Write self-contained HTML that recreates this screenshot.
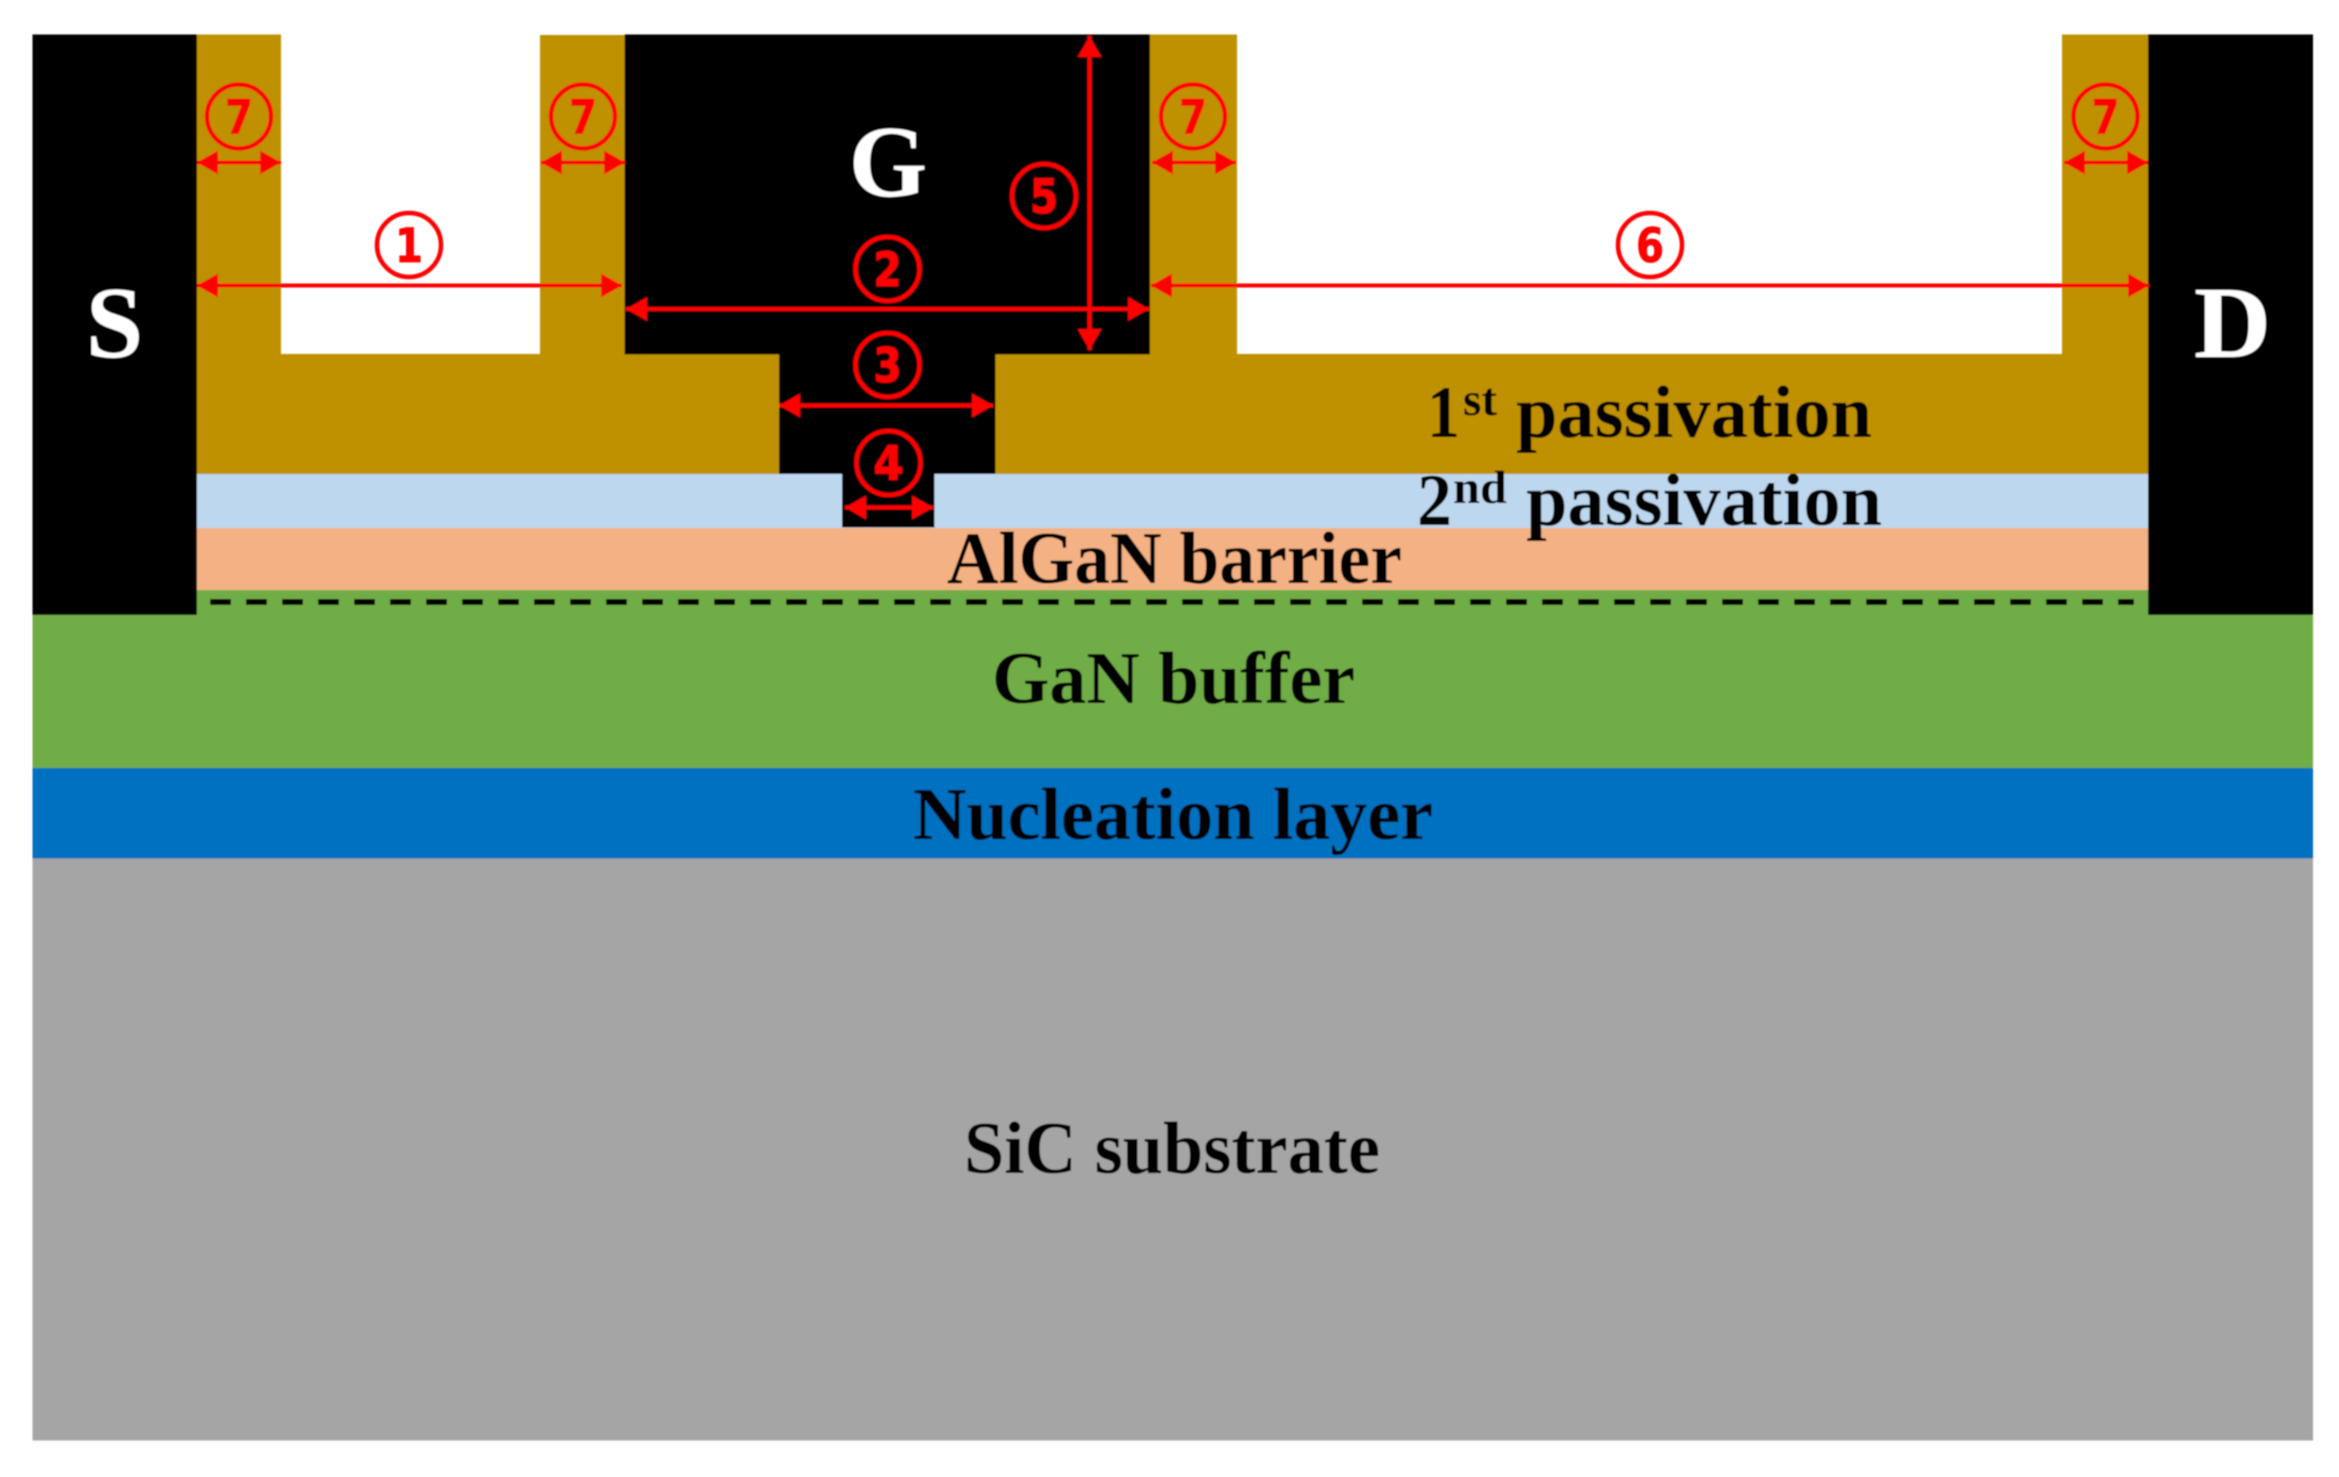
<!DOCTYPE html>
<html lang="en">
<head>
<meta charset="utf-8">
<title>GaN HEMT cross-section</title>
<style>
html,body{margin:0;padding:0;background:#fff;width:2339px;height:1477px;overflow:hidden}
svg{display:block;position:absolute;left:0;top:0}
.t{font-family:"Liberation Serif",serif;font-weight:700;font-size:74px;fill:#000}
.w{font-family:"Liberation Serif",serif;font-weight:700;font-size:102px;fill:#fff}
.s{font-size:47px}
.n{font-family:"DejaVu Sans",sans-serif;font-weight:700;font-size:47px;fill:#f00;text-anchor:middle;stroke:#f00;stroke-width:.8}
.c{fill:none;stroke:#f00;stroke-width:4.5}
.a{stroke:#f00;stroke-width:4;fill:none;marker-start:url(#h);marker-end:url(#h)}
</style>
</head>
<body>
<svg width="2339" height="1477" viewBox="0 0 2339 1477" xmlns="http://www.w3.org/2000/svg">
<defs>
<marker id="h" markerUnits="userSpaceOnUse" markerWidth="22" markerHeight="26" refX="21" refY="13" orient="auto-start-reverse">
<path d="M0 1 L21 13 L0 25 Z" fill="#f00"/>
</marker>
<filter id="b" x="-2%" y="-2%" width="104%" height="104%"><feGaussianBlur stdDeviation="0.8"/></filter>
</defs>
<g filter="url(#b)">
<!-- substrate stack -->
<rect x="32.5" y="858.5" width="2280.5" height="582" fill="#a5a5a5"/>
<rect x="32.5" y="768" width="2280.5" height="90.5" fill="#0070c0"/>
<rect x="32.5" y="590" width="2280.5" height="178" fill="#70ad47"/>
<rect x="197" y="528" width="1951" height="62" fill="#f4b183"/>
<rect x="197" y="474" width="1951" height="54" fill="#bdd7ee"/>
<!-- first passivation -->
<rect x="197" y="354" width="1951" height="120" fill="#bf9000"/>
<rect x="197" y="34.5" width="84" height="320" fill="#bf9000"/>
<rect x="540" y="35" width="85" height="320" fill="#bf9000"/>
<rect x="1150" y="34.5" width="87" height="320" fill="#bf9000"/>
<rect x="2062" y="34.5" width="86" height="320" fill="#bf9000"/>
<!-- contacts -->
<rect x="32.5" y="34.5" width="164.5" height="580.5" fill="#000"/>
<rect x="2148" y="34.5" width="165" height="580.5" fill="#000"/>
<polygon points="624.5,34.5 1150,34.5 1150,354.5 995.5,354.5 995.5,474 934.5,474 934.5,527.5 842,527.5 842,474 779,474 779,354.5 624.5,354.5" fill="#000"/>
<!-- channel -->
<line x1="210" y1="602" x2="2134" y2="602" stroke="#000" stroke-width="6" stroke-dasharray="21 15"/>
<!-- labels -->
<text class="w" x="86" y="357" textLength="57" lengthAdjust="spacingAndGlyphs">S</text>
<text class="w" x="849" y="196" textLength="78" lengthAdjust="spacingAndGlyphs">G</text>
<text class="w" x="2194" y="357" textLength="77" lengthAdjust="spacingAndGlyphs">D</text>
<text class="t" x="1427" y="437" textLength="33" lengthAdjust="spacingAndGlyphs">1</text>
<text class="t s" x="1463" y="415" textLength="34" lengthAdjust="spacingAndGlyphs">st</text>
<text class="t" x="1516" y="437" textLength="356" lengthAdjust="spacingAndGlyphs">passivation</text>
<text class="t" x="1417" y="525" textLength="35" lengthAdjust="spacingAndGlyphs">2</text>
<text class="t s" x="1453" y="503" textLength="54" lengthAdjust="spacingAndGlyphs">nd</text>
<text class="t" x="1526" y="525" textLength="356" lengthAdjust="spacingAndGlyphs">passivation</text>
<text class="t" x="947" y="583" textLength="455" lengthAdjust="spacingAndGlyphs">AlGaN barrier</text>
<text class="t" x="992" y="703" textLength="363" lengthAdjust="spacingAndGlyphs">GaN buffer</text>
<text class="t" x="913" y="839" textLength="520" lengthAdjust="spacingAndGlyphs">Nucleation layer</text>
<text class="t" x="964" y="1173" textLength="416" lengthAdjust="spacingAndGlyphs">SiC substrate</text>
<!-- dimension arrows -->
<line class="a" x1="197" y1="162.5" x2="281" y2="162.5"/>
<line class="a" x1="541" y1="162.5" x2="625" y2="162.5"/>
<line class="a" x1="1152" y1="162.5" x2="1236" y2="162.5"/>
<line class="a" x1="2064" y1="162.5" x2="2148" y2="162.5"/>
<line class="a" x1="197" y1="285.5" x2="622" y2="285.5"/>
<line class="a" x1="1151" y1="285.5" x2="2149" y2="285.5"/>
<line class="a" x1="626" y1="309" x2="1149" y2="309"/>
<line class="a" x1="779" y1="405.5" x2="993" y2="405.5"/>
<line class="a" x1="845" y1="507.5" x2="933" y2="507.5"/>
<line class="a" x1="1089.5" y1="36" x2="1089.5" y2="350"/>
<!-- callouts -->
<circle class="c" cx="239" cy="116.5" r="32"/><text class="n" x="239" y="133.5" textLength="28" lengthAdjust="spacingAndGlyphs">7</text>
<circle class="c" cx="583" cy="116.5" r="32"/><text class="n" x="583" y="133.5" textLength="28" lengthAdjust="spacingAndGlyphs">7</text>
<circle class="c" cx="1193" cy="116.5" r="32"/><text class="n" x="1193" y="133.5" textLength="28" lengthAdjust="spacingAndGlyphs">7</text>
<circle class="c" cx="2105.5" cy="116.5" r="32"/><text class="n" x="2105.5" y="133.5" textLength="28" lengthAdjust="spacingAndGlyphs">7</text>
<circle class="c" cx="409" cy="245" r="32"/><text class="n" x="409" y="262" textLength="28" lengthAdjust="spacingAndGlyphs">1</text>
<circle class="c" cx="1650" cy="245" r="32"/><text class="n" x="1650" y="262" textLength="28" lengthAdjust="spacingAndGlyphs">6</text>
<circle class="c" cx="1044" cy="196" r="32"/><text class="n" x="1044" y="213" textLength="28" lengthAdjust="spacingAndGlyphs">5</text>
<circle class="c" cx="887.5" cy="269" r="32"/><text class="n" x="887.5" y="286" textLength="28" lengthAdjust="spacingAndGlyphs">2</text>
<circle class="c" cx="887.5" cy="365" r="32"/><text class="n" x="887.5" y="382" textLength="28" lengthAdjust="spacingAndGlyphs">3</text>
<circle class="c" cx="888.5" cy="463" r="32"/><text class="n" x="888.5" y="480" textLength="30" lengthAdjust="spacingAndGlyphs">4</text>
</g>
</svg>
</body>
</html>
